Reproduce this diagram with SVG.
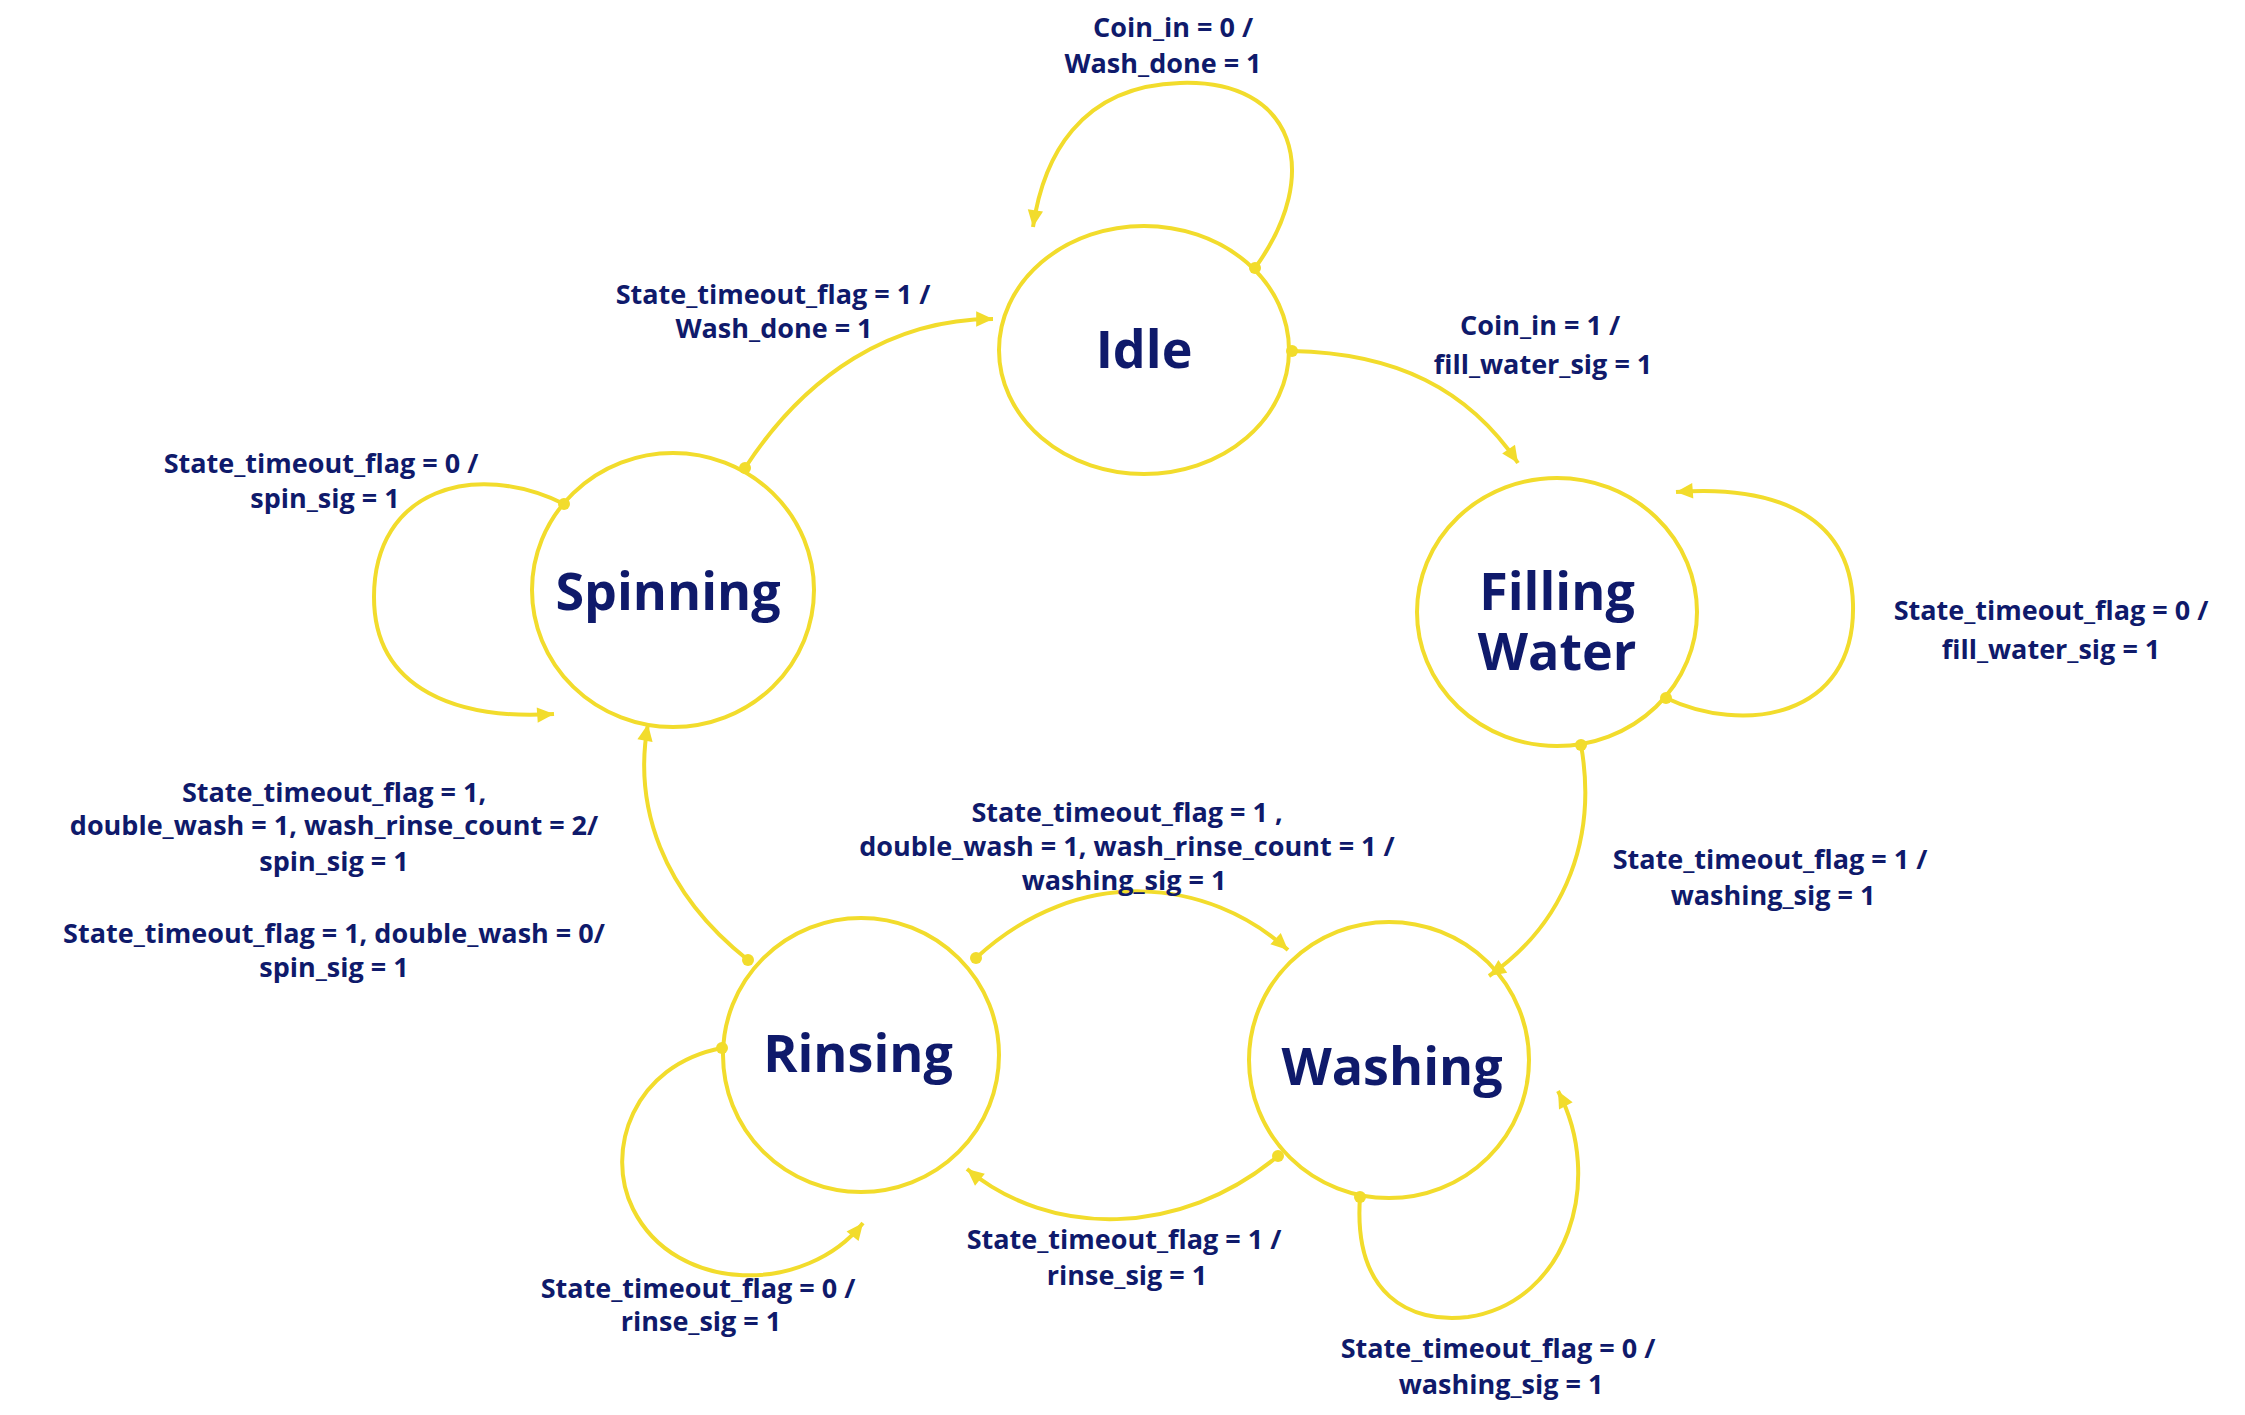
<svg xmlns="http://www.w3.org/2000/svg" width="2245" height="1415" viewBox="0 0 2245 1415">
<style>
.st{fill:#fff;stroke:#f2dc2c;stroke-width:4}
.nl{font-family:"Open Sans","DejaVu Sans",sans-serif;font-weight:700;font-size:52px;fill:#0f1a6b;text-anchor:middle}
.el{font-family:"Open Sans","DejaVu Sans",sans-serif;font-weight:700;font-size:27px;fill:#0f1a6b;text-anchor:middle}
.c{fill:none;stroke:#f2dc2c;stroke-width:4;marker-end:url(#ah);marker-start:url(#dot)}
</style>
<defs>
<marker id="ah" viewBox="0 0 10 10" refX="8" refY="5" markerWidth="7" markerHeight="7" orient="auto" markerUnits="userSpaceOnUse" style="overflow:visible"><path d="M-16,-6 L8,5 L-16,16 z" fill="#f2dc2c"/></marker>
<marker id="dot" viewBox="-5 -5 10 10" refX="0" refY="0" markerWidth="12" markerHeight="12" markerUnits="userSpaceOnUse"><circle r="5" fill="#f2dc2c"/></marker>
</defs>
<rect width="2245" height="1415" fill="#fff"/>
<g id="idle"><ellipse class="st" cx="1144" cy="350" rx="145" ry="124"/><text class="nl" x="1144" y="368">Idle</text></g>
<g id="filling"><ellipse class="st" cx="1557" cy="612" rx="140" ry="134"/><text class="nl" x="1557" y="610">Filling</text><text class="nl" x="1557" y="670">Water</text></g>
<g id="spinning"><ellipse class="st" cx="673" cy="590" rx="141" ry="137"/><text class="nl" x="668" y="610">Spinning</text></g>
<g id="rinsing"><ellipse class="st" cx="861" cy="1055" rx="138" ry="137"/><text class="nl" x="858" y="1072">Rinsing</text></g>
<g id="washing"><ellipse class="st" cx="1389" cy="1060" rx="140" ry="138"/><text class="nl" x="1392" y="1085">Washing</text></g>
<g id="connectors">
<path class="c" d="M1255,268 C1324,173 1295,79 1180,83 C1079,86 1043,158 1033,227"/>
<path class="c" d="M1292,351 C1396,353 1468,389 1518,463"/>
<path class="c" d="M1666,698 C1741,734 1856,720 1853,604 C1850,504 1756,486 1676,492"/>
<path class="c" d="M1581,745 C1597,835 1568,921 1489,976"/>
<path class="c" d="M1360,1197 C1353,1295 1410,1324 1468,1317 C1568,1302 1605,1180 1558,1091"/>
<path class="c" d="M1278,1156 C1180,1238 1050,1238 967,1169"/>
<path class="c" d="M976,958 C1079,863 1209,878 1288,950"/>
<path class="c" d="M722,1048 C633,1065 604,1151 633,1209 C676,1295 806,1295 863,1223"/>
<path class="c" d="M748,960 C662,892 633,806 648,724"/>
<path class="c" d="M564,504 C475,460 374,489 374,597 C374,691 460,720 554,714"/>
<path class="c" d="M745,468 C806,374 892,319 993,319"/>
<text class="el" x="1173" y="37">Coin_in = 0 /</text><text class="el" x="1163" y="73">Wash_done = 1</text>
<text class="el" x="1540" y="335">Coin_in = 1 /</text><text class="el" x="1543" y="374">fill_water_sig = 1</text>
<text class="el" x="2051" y="620">State_timeout_flag = 0 /</text><text class="el" x="2051" y="659">fill_water_sig = 1</text>
<text class="el" x="1770" y="869">State_timeout_flag = 1 /</text><text class="el" x="1773" y="905">washing_sig = 1</text>
<text class="el" x="1498" y="1358">State_timeout_flag = 0 /</text><text class="el" x="1501" y="1394">washing_sig = 1</text>
<text class="el" x="1124" y="1249">State_timeout_flag = 1 /</text><text class="el" x="1127" y="1285">rinse_sig = 1</text>
<text class="el" x="1127" y="822">State_timeout_flag = 1 ,</text><text class="el" x="1127" y="856">double_wash = 1, wash_rinse_count = 1 /</text><text class="el" x="1124" y="890">washing_sig = 1</text>
<text class="el" x="698" y="1298">State_timeout_flag = 0 /</text><text class="el" x="701" y="1331">rinse_sig = 1</text>
<text class="el" x="334" y="802">State_timeout_flag = 1,</text><text class="el" x="334" y="835">double_wash = 1, wash_rinse_count = 2/</text><text class="el" x="334" y="871">spin_sig = 1</text>
<text class="el" x="334" y="943">State_timeout_flag = 1, double_wash = 0/</text><text class="el" x="334" y="977">spin_sig = 1</text>
<text class="el" x="321" y="473">State_timeout_flag = 0 /</text><text class="el" x="325" y="508">spin_sig = 1</text>
<text class="el" x="773" y="304">State_timeout_flag = 1 /</text><text class="el" x="774" y="338">Wash_done = 1</text>
</g>
</svg>
